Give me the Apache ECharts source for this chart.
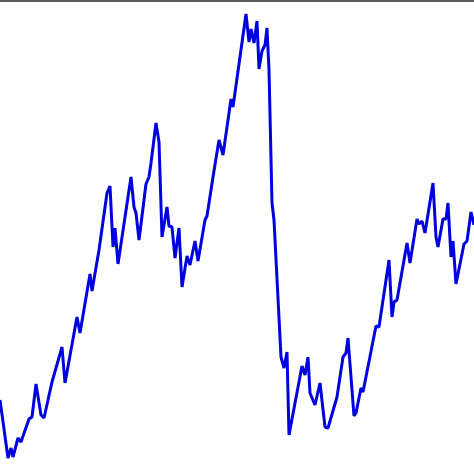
<!DOCTYPE html>
<html>
<head>
<meta charset="utf-8">
<script src="https://cdn.jsdelivr.net/npm/echarts@6/dist/echarts.min.js"></script>
<style>
  html, body { margin: 0; padding: 0; background: #fff; }
  #view { width: 474px; height: 474px; }
</style>
</head>
<body>
<div id="view"></div>
<script>
// time steps and series values
var steps = [0, 8, 11, 13, 18, 21, 23, 29, 32, 36, 41, 44, 52, 54, 62, 65, 77, 80, 90, 92,
    99, 107, 110, 113, 115, 118, 131, 134, 136, 139, 146, 149, 151, 156, 159, 162, 167, 169, 172, 175,
    179, 182, 187, 190, 195, 198, 205, 207, 213, 219, 223, 231, 233, 246, 249, 251, 254, 257, 259, 262,
    265, 267, 269, 272, 274, 281, 284, 287, 289, 302, 305, 308, 310, 315, 320, 325, 328, 337, 343, 346,
    348, 354, 356, 361, 363, 376, 379, 389, 392, 394, 397, 407, 410, 417, 419, 422, 425, 433, 436, 438,
    443, 446, 448, 451, 453, 456, 464, 467, 471, 474];
var values = [74, 16, 26, 17, 36, 32, 32, 55, 57, 90, 59, 56, 92, 92, 127, 91, 157, 141, 200, 183,
    224, 281, 288, 227, 246, 210, 297, 267, 261, 234, 290, 297, 311, 351, 332, 237, 267, 248, 247, 216,
    246, 187, 218, 209, 233, 213, 254, 258, 297, 334, 319, 375, 367, 460, 432, 445, 431, 453, 405, 423,
    429, 446, 404, 271, 254, 117, 106, 122, 39, 108, 99, 117, 81, 69, 91, 47, 46, 77, 117, 121,
    136, 58, 61, 86, 82, 148, 147, 214, 157, 172, 174, 231, 211, 255, 250, 253, 241, 291, 237, 227,
    255, 255, 271, 217, 233, 190, 230, 233, 262, 249];

var points = steps.map(function (s, i) { return [s, values[i]]; });

var myChart = echarts.init(document.getElementById('view'));

option = {
    animation: false,
    grid: { left: 0, right: 0, top: 0, bottom: 0 },
    xAxis: {
        type: 'value',
        position: 'top',
        min: 0,
        max: 474,
        axisLine: { show: true, onZero: false, lineStyle: { color: '#5a5a5a', width: 4 } },
        axisTick: { show: false },
        axisLabel: { show: false },
        splitLine: { show: false }
    },
    yAxis: {
        type: 'value',
        min: 0,
        max: 474,
        show: false
    },
    series: [{
        type: 'line',
        data: points,
        showSymbol: false,
        lineStyle: { color: '#0000e0', width: 3 }
    }]
};

myChart.setOption(option);
</script>
</body>
</html>
